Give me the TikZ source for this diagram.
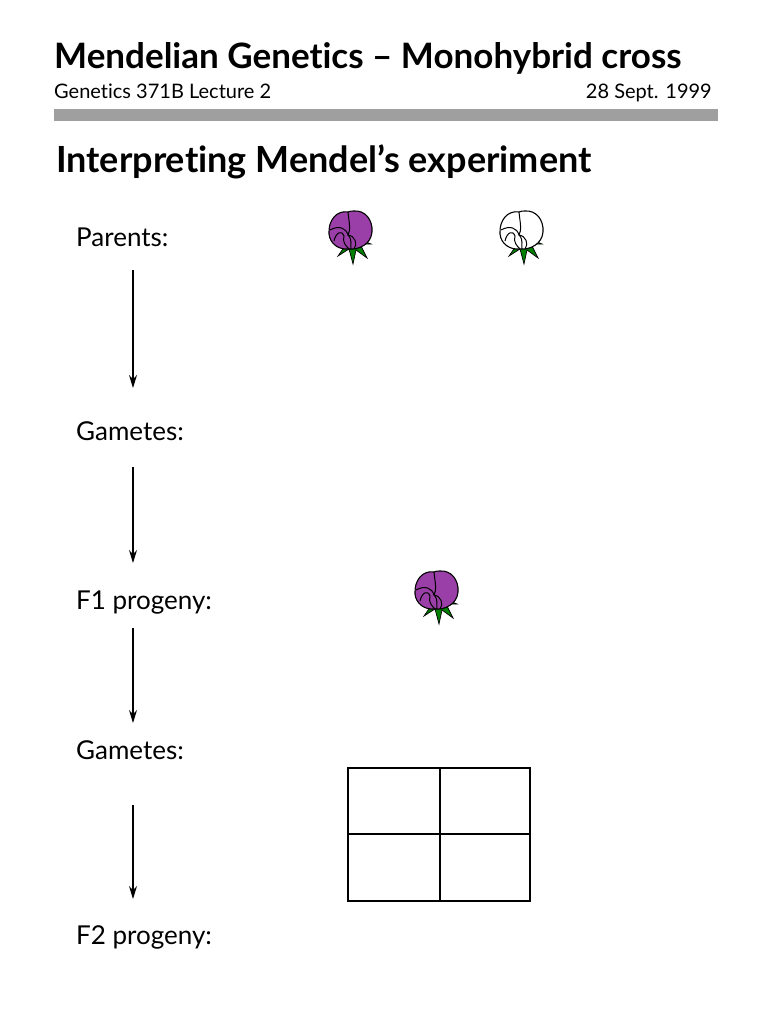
\documentclass[tikz,border=0pt]{standalone}
\usepackage{fontspec}
\setmainfont{Lato}[Ligatures={NoCommon,NoRare}]
\usetikzlibrary{arrows.meta}
\definecolor{purp}{HTML}{9B3FA8}
\begin{document}
\begin{tikzpicture}[x=1pt,y=-1pt,
  lbl/.style={anchor=base west,font=\fontsize{26}{30}\selectfont,inner sep=0pt},
  arr/.style={-{Stealth[length=13pt,width=8pt]},line width=1.2pt},
  flower/.pic={
    \fill[green!50!black,draw=black,line width=0.7pt] (-15,12) -- (-4,11) -- (-13,24) -- (-2,17) -- (2,32) -- (5,18) -- (16,26) -- (9,12) -- (20,12) -- (6,6) -- cycle;
    \draw[fill=#1,line width=1.1pt] (-3,-20) .. controls (-14,-22) and (-23,-12) .. (-22,2)
      .. controls (-21,12) and (-12,18) .. (-2,17) .. controls (8,18) and (20,12) .. (21,0)
      .. controls (22,-12) and (14,-22) .. (3,-21) .. controls (1,-21) and (-1,-21) .. (-3,-20) -- cycle;
    \draw[line width=1pt] (-3,-20) .. controls (-2,-10) and (0,-2) .. (-3,3);
    \draw[line width=1pt] (-21,-2) .. controls (-12,-7) and (-5,-4) .. (-3,3) .. controls (4,4) and (7,12) .. (3,17);
    \draw[line width=1pt] (-17,9) .. controls (-15,0) and (-9,-2) .. (-7,4) .. controls (-9,10) and (-5,14) .. (-2,17);
    \draw[line width=1pt] (-3,3) .. controls (2,8) and (-1,14) .. (0,17);
  }]
\useasboundingbox (0,0) rectangle (768,1024);
\node[anchor=base west,inner sep=0pt,font=\fontsize{35}{38}\selectfont\bfseries] (title) at (54,69) {Mendelian Genetics – Monohybrid cross};
\node[anchor=base west,inner sep=0pt,font=\fontsize{20}{24}\selectfont] (sub) at (54,99) {Genetics 371B Lecture 2};
\node[anchor=base east,inner sep=0pt,font=\fontsize{20}{24}\selectfont] (date) at (712,99) {28 Sept. 1999};
\fill[gray!75] (54,109) rectangle (718,121);
\node[anchor=base west,inner sep=0pt,font=\fontsize{36}{40}\selectfont\bfseries] (sec) at (56,173) {Interpreting Mendel’s experiment};
\node[lbl] (p) at (76,246) {Parents:};
\node[lbl] (g1) at (76,440) {Gametes:};
\node[lbl] (f1) at (76,609) {F1 progeny:};
\node[lbl] (g2) at (76,759) {Gametes:};
\node[lbl] (f2) at (76,944) {F2 progeny:};
\coordinate (a1) at (133,270); \coordinate (b1) at (133,388);
\coordinate (a2) at (133,467); \coordinate (b2) at (133,563);
\coordinate (a3) at (133,628); \coordinate (b3) at (133,723);
\coordinate (a4) at (133,805); \coordinate (b4) at (133,899);
\draw[arr] (a1) -- (b1); \draw[arr] (a2) -- (b2);
\draw[arr] (a3) -- (b3); \draw[arr] (a4) -- (b4);
\pic at (351,232) {flower=purp};
\pic at (522,232) {flower=white};
\pic at (437,592) {flower=purp};
\draw[line width=2pt] (348,768) rectangle (530,901);
\draw[line width=1.5pt] (440,768) -- (440,901) (348,834) -- (530,834);
\end{tikzpicture}
\end{document}
